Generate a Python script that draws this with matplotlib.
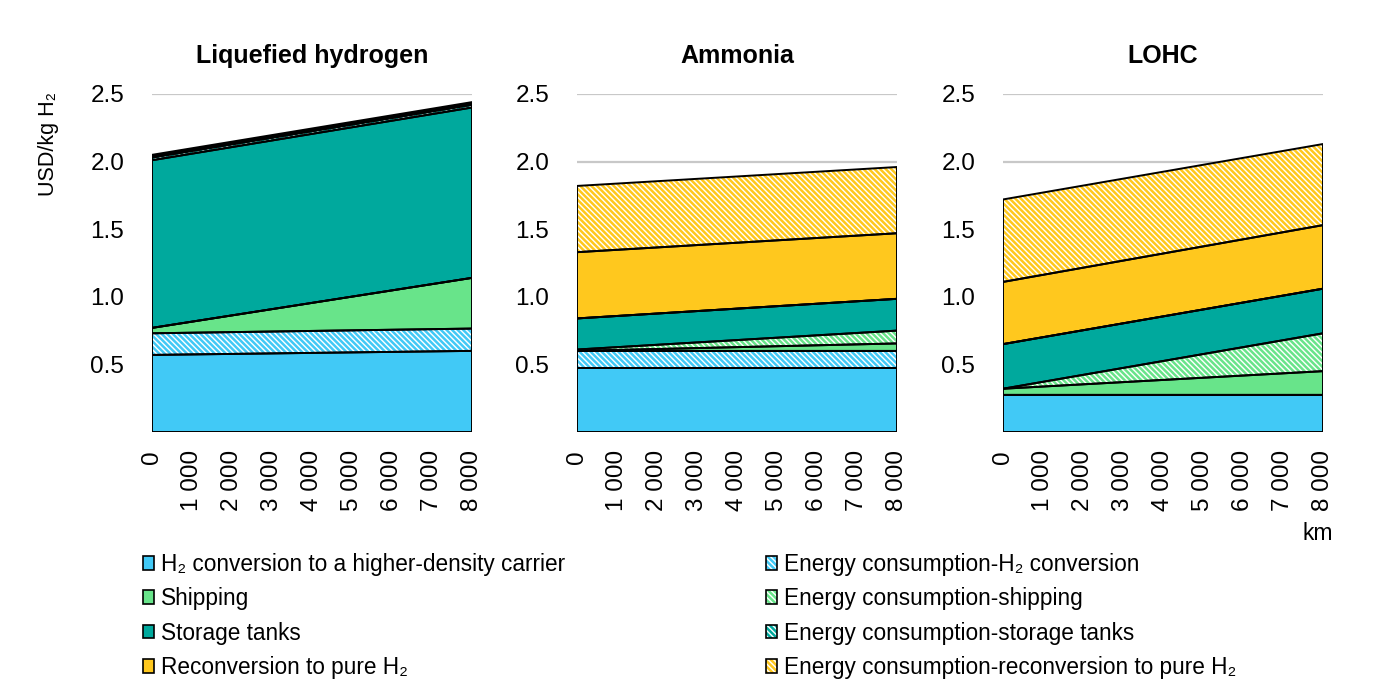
import matplotlib
matplotlib.use("Agg")
import matplotlib.pyplot as plt
from matplotlib.patches import Patch
from matplotlib.legend_handler import HandlerTuple
import numpy as np

plt.rcParams['font.family'] = ['Liberation Sans', 'DejaVu Sans']
plt.rcParams['hatch.linewidth'] = 1.8

# ---- data (USD/kg H2), read at 0 km and 8 000 km ----
distance_km = [0, 8000]
tick_km = [0, 1000, 2000, 3000, 4000, 5000, 6000, 7000, 8000]
tick_labels = ["0", "1 000", "2 000", "3 000", "4 000", "5 000", "6 000", "7 000", "8 000"]

panel_titles = ["Liquefied hydrogen", "Ammonia", "LOHC"]

series_names = [
    "H\u2082 conversion to a higher-density carrier",
    "Energy consumption-H\u2082 conversion",
    "Shipping",
    "Energy consumption-shipping",
    "Storage tanks",
    "Energy consumption-storage tanks",
    "Reconversion to pure H\u2082",
    "Energy consumption-reconversion to pure H\u2082",
]

# Liquefied hydrogen
lh2_conversion = [0.57, 0.60]
lh2_energy_conversion = [0.16, 0.165]
lh2_shipping = [0.04, 0.375]
lh2_energy_shipping = [0.0, 0.0]
lh2_storage = [1.24, 1.26]
lh2_energy_storage = [0.02, 0.02]
lh2_reconversion = [0.01, 0.01]
lh2_energy_reconversion = [0.01, 0.01]

# Ammonia
nh3_conversion = [0.47, 0.47]
nh3_energy_conversion = [0.13, 0.13]
nh3_shipping = [0.0, 0.055]
nh3_energy_shipping = [0.01, 0.095]
nh3_storage = [0.23, 0.235]
nh3_energy_storage = [0.0, 0.0]
nh3_reconversion = [0.49, 0.485]
nh3_energy_reconversion = [0.49, 0.49]

# LOHC
lohc_conversion = [0.27, 0.27]
lohc_energy_conversion = [0.005, 0.005]
lohc_shipping = [0.045, 0.175]
lohc_energy_shipping = [0.0, 0.28]
lohc_storage = [0.33, 0.33]
lohc_energy_storage = [0.0, 0.0]
lohc_reconversion = [0.46, 0.47]
lohc_energy_reconversion = [0.61, 0.60]

panels = [
    [lh2_conversion, lh2_energy_conversion, lh2_shipping, lh2_energy_shipping,
     lh2_storage, lh2_energy_storage, lh2_reconversion, lh2_energy_reconversion],
    [nh3_conversion, nh3_energy_conversion, nh3_shipping, nh3_energy_shipping,
     nh3_storage, nh3_energy_storage, nh3_reconversion, nh3_energy_reconversion],
    [lohc_conversion, lohc_energy_conversion, lohc_shipping, lohc_energy_shipping,
     lohc_storage, lohc_energy_storage, lohc_reconversion, lohc_energy_reconversion],
]

# ---- styles ----
BLUE = "#41C9F6"
GREEN = "#68E48A"
TEAL = "#00A99D"
YELLOW = "#FFC81E"
colors = [BLUE, BLUE, GREEN, GREEN, TEAL, TEAL, YELLOW, YELLOW]
hatched = [False, True, False, True, False, True, False, True]
HATCH = "\\" * 6

W, H = 1389, 693
fig = plt.figure(figsize=(W / 100, H / 100), dpi=100)

ax_lefts = [152, 577, 1003]
ax_width = 320
ax_top, ax_bottom = 94, 432

axes = []
for i, (left, data, title) in enumerate(zip(ax_lefts, panels, panel_titles)):
    ax = fig.add_axes([left / W, 1 - ax_bottom / H, ax_width / W, (ax_bottom - ax_top) / H])
    axes.append(ax)
    x = np.array(distance_km, dtype=float)
    base = np.zeros(len(x))
    for vals, col, hat in zip(data, colors, hatched):
        top = base + np.array(vals)
        if hat:
            ax.fill_between(x, base, top, facecolor="white", edgecolor=col,
                            hatch=HATCH, linewidth=0, zorder=2)
        else:
            ax.fill_between(x, base, top, facecolor=col, linewidth=0, zorder=2)
        ax.fill_between(x, base, top, facecolor="none", edgecolor="black",
                        linewidth=1.4, zorder=3)
        base = top

    ax.set_xlim(0, 8000)
    ax.set_ylim(0, 2.5)
    ax.set_yticks([0.5, 1.0, 1.5, 2.0, 2.5])
    ax.set_yticklabels(["0.5", "1.0", "1.5", "2.0", "2.5"])
    ax.set_xticks(tick_km)
    ax.set_xticklabels(tick_labels, rotation=90, va="top", ha="center")
    ax.tick_params(axis="both", length=0, labelsize=17.5)
    ax.tick_params(axis="y", pad=20)
    ax.tick_params(axis="x", pad=13)
    ax.grid(axis="y", color="#C8C8C8", linewidth=1.6, zorder=0)
    ax.set_axisbelow(True)
    for s in ax.spines.values():
        s.set_visible(False)
    ax.set_title(title, fontsize=18, fontweight="bold", pad=22)

axes[0].set_ylabel("USD/kg H\u2082", fontsize=15.5)
axes[0].yaxis.set_label_coords(-0.29, 0.852)

fig.text(1318 / W, 1 - 533 / H, "km", fontsize=16.5, ha="center", va="center")

# ---- legends ----
def make_handle(col, hat):
    if hat:
        p1 = Patch(facecolor="white", edgecolor=col, hatch="\\" * 6, linewidth=0)
        p2 = Patch(facecolor="none", edgecolor="black", linewidth=1.2)
        return (p1, p2)
    return Patch(facecolor=col, edgecolor="black", linewidth=1.2)

handles = [make_handle(c, h) for c, h in zip(colors, hatched)]

leg_kw = dict(frameon=False, fontsize=16.3, handlelength=0.5, handleheight=0.55,
              handletextpad=0.3, labelspacing=0.5, borderaxespad=0, borderpad=0,
              handler_map={tuple: HandlerTuple(ndivide=1, pad=0)})

idx_left = [0, 2, 4, 6]
idx_right = [1, 3, 5, 7]
fig.legend([handles[i] for i in idx_left], [series_names[i] for i in idx_left],
           loc="upper left", bbox_to_anchor=(143 / W, 1 - 553 / H), **leg_kw)
fig.legend([handles[i] for i in idx_right], [series_names[i] for i in idx_right],
           loc="upper left", bbox_to_anchor=(766 / W, 1 - 553 / H), **leg_kw)

fig.savefig("out.png", dpi=100)
